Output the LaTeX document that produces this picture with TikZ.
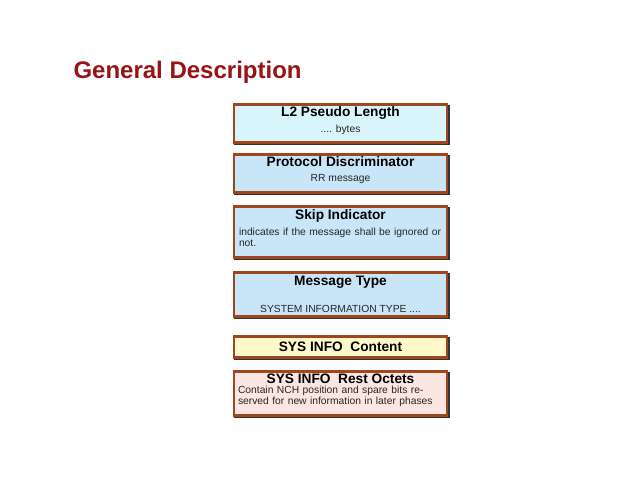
\documentclass[tikz,border=0pt]{standalone}
\usepackage{fontspec}
\setmainfont{Liberation Sans}
\usetikzlibrary{positioning}
\definecolor{titlered}{RGB}{150,20,20}
\definecolor{framebrown}{RGB}{160,70,30}
\definecolor{bluefill}{RGB}{200,230,248}
\definecolor{cyanfill}{RGB}{215,245,250}
\definecolor{yellowfill}{RGB}{255,248,200}
\definecolor{pinkfill}{RGB}{252,230,225}
\tikzset{
  fieldbox/.style={draw=framebrown, line width=2.2pt, minimum width=213pt, inner sep=0pt,
    preaction={draw=black!80, line width=2.2pt, transform canvas={shift={(1.5pt,-1.5pt)}}}},
  fieldname/.style={font=\bfseries\fontsize{13.7}{16}\selectfont, inner sep=1pt},
  fieldinfo/.style={font=\fontsize{10.3}{11.5}\selectfont, inner sep=1pt, text=black!85}
}
\begin{document}
\begin{tikzpicture}[x=1pt,y=-1pt]
	\useasboundingbox[fill=white] (0,0) rectangle (638,478);
	\node[anchor=west, text=titlered, font=\bfseries\fontsize{24}{28}\selectfont] (title) at (70,72) {General Description};

	\node[fieldbox, fill=cyanfill, minimum height=38pt] (len) at (340.5,123.5) {};
	\node[fieldname, below=2pt of len.north] (lenname) {L2 Pseudo Length};
	\node[fieldinfo, below=3pt of lenname] (leninfo) {.... bytes};

	\node[fieldbox, fill=bluefill, minimum height=38pt] (pd) at (340.5,173.5) {};
	\node[fieldname, below=2pt of pd.north] (pdname) {Protocol Discriminator};
	\node[fieldinfo, below=5pt of pdname] (pdinfo) {RR message};

	\node[fieldbox, fill=bluefill, minimum height=51pt] (skip) at (340.5,232) {};
	\node[fieldname, below=3pt of skip.north] (skipname) {Skip Indicator};
	\node[fieldinfo, text width=203pt, align=left, below=3pt of skipname] (skipinfo)
		{indicates if the message shall be ignored or not.};

	\node[fieldbox, fill=bluefill, minimum height=44pt] (mt) at (340.5,294.5) {};
	\node[fieldname, below=3pt of mt.north] (mtname) {Message Type};
	\node[fieldinfo, above=4pt of mt.south] (mtinfo) {SYSTEM INFORMATION TYPE ....};

	\node[fieldbox, fill=yellowfill, minimum height=21pt] (content) at (340.5,347) {};
	\node[fieldname] (contentname) at (content) {SYS INFO\ \ Content};

	\node[fieldbox, fill=pinkfill, minimum height=44pt] (rest) at (340.5,393.5) {};
	\node[fieldname, below=2pt of rest.north] (restname) {SYS INFO\ \ Rest Octets};
	\node[fieldinfo, text width=205pt, align=left, below=0pt of restname] (restinfo)
		{Contain NCH position and spare bits reserved for new information in later phases};
\end{tikzpicture}
\end{document}
